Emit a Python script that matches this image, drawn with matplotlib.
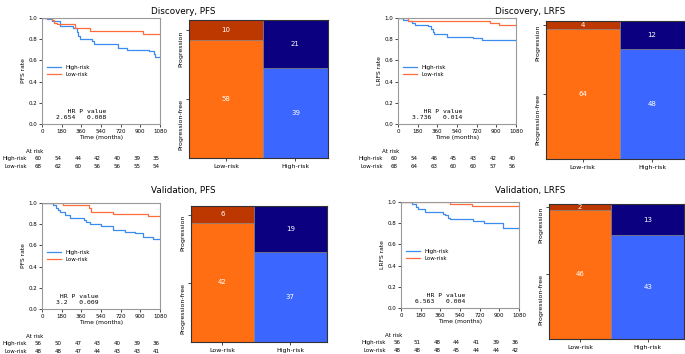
import matplotlib
matplotlib.use("Agg")
import matplotlib.pyplot as plt

W, H = 685, 354

# KM step curves (time in months, survival)
dpfs_high_t = [0, 43, 89, 165, 287, 317, 327, 348, 455, 479, 698, 774, 982, 1024, 1037, 1080]
dpfs_high_s = [1.0, 0.99, 0.968, 0.921, 0.906, 0.87, 0.826, 0.80, 0.78, 0.755, 0.72, 0.70, 0.685, 0.66, 0.63, 0.63]
dpfs_low_t = [0, 89, 110, 140, 305, 340, 440, 927, 1080]
dpfs_low_s = [1.0, 0.98, 0.955, 0.94, 0.91, 0.905, 0.877, 0.849, 0.849]

dlrfs_high_t = [0, 49, 95, 125, 156, 278, 299, 317, 333, 452, 690, 766, 1080]
dlrfs_high_s = [1.0, 0.98, 0.97, 0.95, 0.935, 0.92, 0.90, 0.87, 0.845, 0.825, 0.81, 0.79, 0.79]
dlrfs_low_t = [0, 95, 842, 927, 1080]
dlrfs_low_s = [1.0, 0.97, 0.953, 0.937, 0.937]

vpfs_high_t = [0, 104, 128, 150, 165, 210, 256, 387, 403, 439, 537, 653, 760, 851, 927, 1019, 1080]
vpfs_high_s = [1.0, 0.978, 0.955, 0.93, 0.912, 0.89, 0.86, 0.84, 0.82, 0.80, 0.78, 0.745, 0.73, 0.715, 0.676, 0.657, 0.657]
vpfs_low_t = [0, 189, 433, 445, 647, 967, 1080]
vpfs_low_s = [1.0, 0.98, 0.955, 0.918, 0.90, 0.874, 0.874]

vlrfs_high_t = [0, 98, 137, 153, 223, 387, 403, 433, 448, 662, 763, 931, 1080]
vlrfs_high_s = [1.0, 0.98, 0.955, 0.93, 0.91, 0.89, 0.874, 0.85, 0.836, 0.818, 0.80, 0.755, 0.755]
vlrfs_low_t = [0, 448, 647, 1080]
vlrfs_low_s = [1.0, 0.984, 0.96, 0.96]

# at risk tables
risk_times = [0, 180, 360, 540, 720, 900, 1080]
dpfs_risk_high = [60, 54, 44, 42, 40, 39, 35]
dpfs_risk_low = [68, 62, 60, 56, 56, 55, 54]
dlrfs_risk_high = [60, 54, 46, 45, 43, 42, 40]
dlrfs_risk_low = [68, 64, 63, 60, 60, 57, 56]
vpfs_risk_high = [56, 50, 47, 43, 40, 39, 36]
vpfs_risk_low = [48, 48, 47, 44, 43, 43, 41]
vlrfs_risk_high = [56, 51, 48, 44, 41, 39, 36]
vlrfs_risk_low = [48, 48, 48, 45, 44, 44, 42]

# HR / p value
hr_vals = ["2.654", "3.736", "3.2", "6.563"]
p_vals = ["0.008", "0.014", "0.009", "0.004"]

# mosaic counts: [progression, progression-free] for low-risk and high-risk
dpfs_low = [10, 58]
dpfs_high = [21, 39]
dlrfs_low = [4, 64]
dlrfs_high = [12, 48]
vpfs_low = [6, 42]
vpfs_high = [19, 37]
vlrfs_low = [2, 46]
vlrfs_high = [13, 43]

titles = ["Discovery, PFS", "Discovery, LRFS", "Validation, PFS", "Validation, LRFS"]
ylabels = ["PFS rate", "LRFS rate", "PFS rate", "LRFS rate"]

c_high = "#3a8cf0"
c_low = "#ff6e3a"
low_cols = ["#bd3700", "#ff6e12"]
high_cols = ["#0a0080", "#3b66ff"]


def px(l, t, r, b):
    return [l / W, 1 - b / H, (r - l) / W, (b - t) / H]


def km_panel(rect, ht, hs, lt, ls, rh, rl, ylab, hr, p):
    ax = fig.add_axes(px(*rect))
    ax.step(ht, hs, where="post", color=c_high, lw=0.9, label="High-risk")
    ax.step(lt, ls, where="post", color=c_low, lw=0.9, label="Low-risk")
    ax.set_xlim(0, 1080)
    ax.set_ylim(0, 1.0)
    ax.set_xticks(risk_times)
    ax.set_yticks([0, 0.2, 0.4, 0.6, 0.8, 1.0])
    ax.tick_params(labelsize=4, length=2, width=0.5, pad=1.5)
    ax.set_xlabel("Time (months)", fontsize=4.3, labelpad=1)
    ax.set_ylabel(ylab, fontsize=4.3, labelpad=2)
    for s in ax.spines.values():
        s.set_color("#9a9a9a")
        s.set_linewidth(0.8)
    ax.legend(loc="center left", bbox_to_anchor=(0.0, 0.5), frameon=False,
              fontsize=4, handlelength=2.5)
    line1 = "HR".rjust(len(hr)) + " P value"
    line2 = hr + "   " + p
    ax.text(0.115, 0.04, line1 + "\n" + line2, transform=ax.transAxes,
            family="DejaVu Sans Mono", fontsize=4.6, ha="left", va="bottom",
            linespacing=1.2)
    # at risk table
    tr = ax.get_xaxis_transform()
    ax.text(10, -0.255, "At risk", transform=tr, fontsize=4, ha="right", va="center")
    ax.text(-135, -0.33, "High-risk", transform=tr, fontsize=4, ha="right", va="center")
    ax.text(-135, -0.40, "Low-risk", transform=tr, fontsize=4, ha="right", va="center")
    for t, a, b in zip(risk_times, rh, rl):
        ax.text(t, -0.33, str(a), transform=tr, fontsize=4, ha="right", va="center")
        ax.text(t, -0.40, str(b), transform=tr, fontsize=4, ha="right", va="center")
    return ax


def mosaic_panel(rect, low, high):
    ax = fig.add_axes(px(*rect))
    nl = sum(low)
    nh = sum(high)
    wl = nl / (nl + nh)
    wh = nh / (nl + nh)
    xl = wl / 2
    xh = wl + wh / 2
    # progression on top
    fl = low[1] / nl
    fh = high[1] / nh
    ax.bar(xl, fl, width=wl, bottom=0, color=low_cols[1], edgecolor="#888888", lw=0.4)
    ax.bar(xl, 1 - fl, width=wl, bottom=fl, color=low_cols[0], edgecolor="#888888", lw=0.4)
    ax.bar(xh, fh, width=wh, bottom=0, color=high_cols[1], edgecolor="#888888", lw=0.4)
    ax.bar(xh, 1 - fh, width=wh, bottom=fh, color=high_cols[0], edgecolor="#888888", lw=0.4)
    ax.text(xl, (1 + fl) / 2, str(low[0]), color="white", fontsize=5, ha="center", va="center")
    ax.text(xl, fl / 2, str(low[1]), color="white", fontsize=5, ha="center", va="center")
    ax.text(xh, (1 + fh) / 2, str(high[0]), color="white", fontsize=5, ha="center", va="center")
    ax.text(xh, fh / 2, str(high[1]), color="white", fontsize=5, ha="center", va="center")
    ax.set_xlim(0, 1)
    ax.set_ylim(0, 1)
    ax.set_xticks([xl, xh])
    ax.set_xticklabels(["Low-risk", "High-risk"])
    ax.set_yticks([(1 + fl) / 2, fl / 2])
    ax.set_yticklabels(["Progression", "Progression-free"], rotation=90, va="top")
    ax.tick_params(labelsize=4.5, length=2, width=0.5, pad=2)
    for s in ax.spines.values():
        s.set_color("#333333")
        s.set_linewidth(0.8)
    return ax


fig = plt.figure(figsize=(W / 100, H / 100), dpi=100)

km_panel((42, 18, 160, 124), dpfs_high_t, dpfs_high_s, dpfs_low_t, dpfs_low_s,
         dpfs_risk_high, dpfs_risk_low, ylabels[0], hr_vals[0], p_vals[0])
mosaic_panel((189, 20, 328, 158), dpfs_low, dpfs_high)

km_panel((398, 18, 516, 124), dlrfs_high_t, dlrfs_high_s, dlrfs_low_t, dlrfs_low_s,
         dlrfs_risk_high, dlrfs_risk_low, ylabels[1], hr_vals[1], p_vals[1])
mosaic_panel((546, 21, 684.5, 159), dlrfs_low, dlrfs_high)

km_panel((42, 203, 160, 309), vpfs_high_t, vpfs_high_s, vpfs_low_t, vpfs_low_s,
         vpfs_risk_high, vpfs_risk_low, ylabels[2], hr_vals[2], p_vals[2])
mosaic_panel((191, 206, 327, 342), vpfs_low, vpfs_high)

km_panel((401, 202, 519, 308), vlrfs_high_t, vlrfs_high_s, vlrfs_low_t, vlrfs_low_s,
         vlrfs_risk_high, vlrfs_risk_low, ylabels[3], hr_vals[3], p_vals[3])
mosaic_panel((549, 204, 684, 339), vlrfs_low, vlrfs_high)

fig.text(183 / W, 1 - 12 / H, titles[0], fontsize=6.3, ha="center", va="center")
fig.text(530 / W, 1 - 12 / H, titles[1], fontsize=6.3, ha="center", va="center")
fig.text(183 / W, 1 - 191 / H, titles[2], fontsize=6.3, ha="center", va="center")
fig.text(530 / W, 1 - 191 / H, titles[3], fontsize=6.3, ha="center", va="center")

fig.savefig("out.png", dpi=100)
